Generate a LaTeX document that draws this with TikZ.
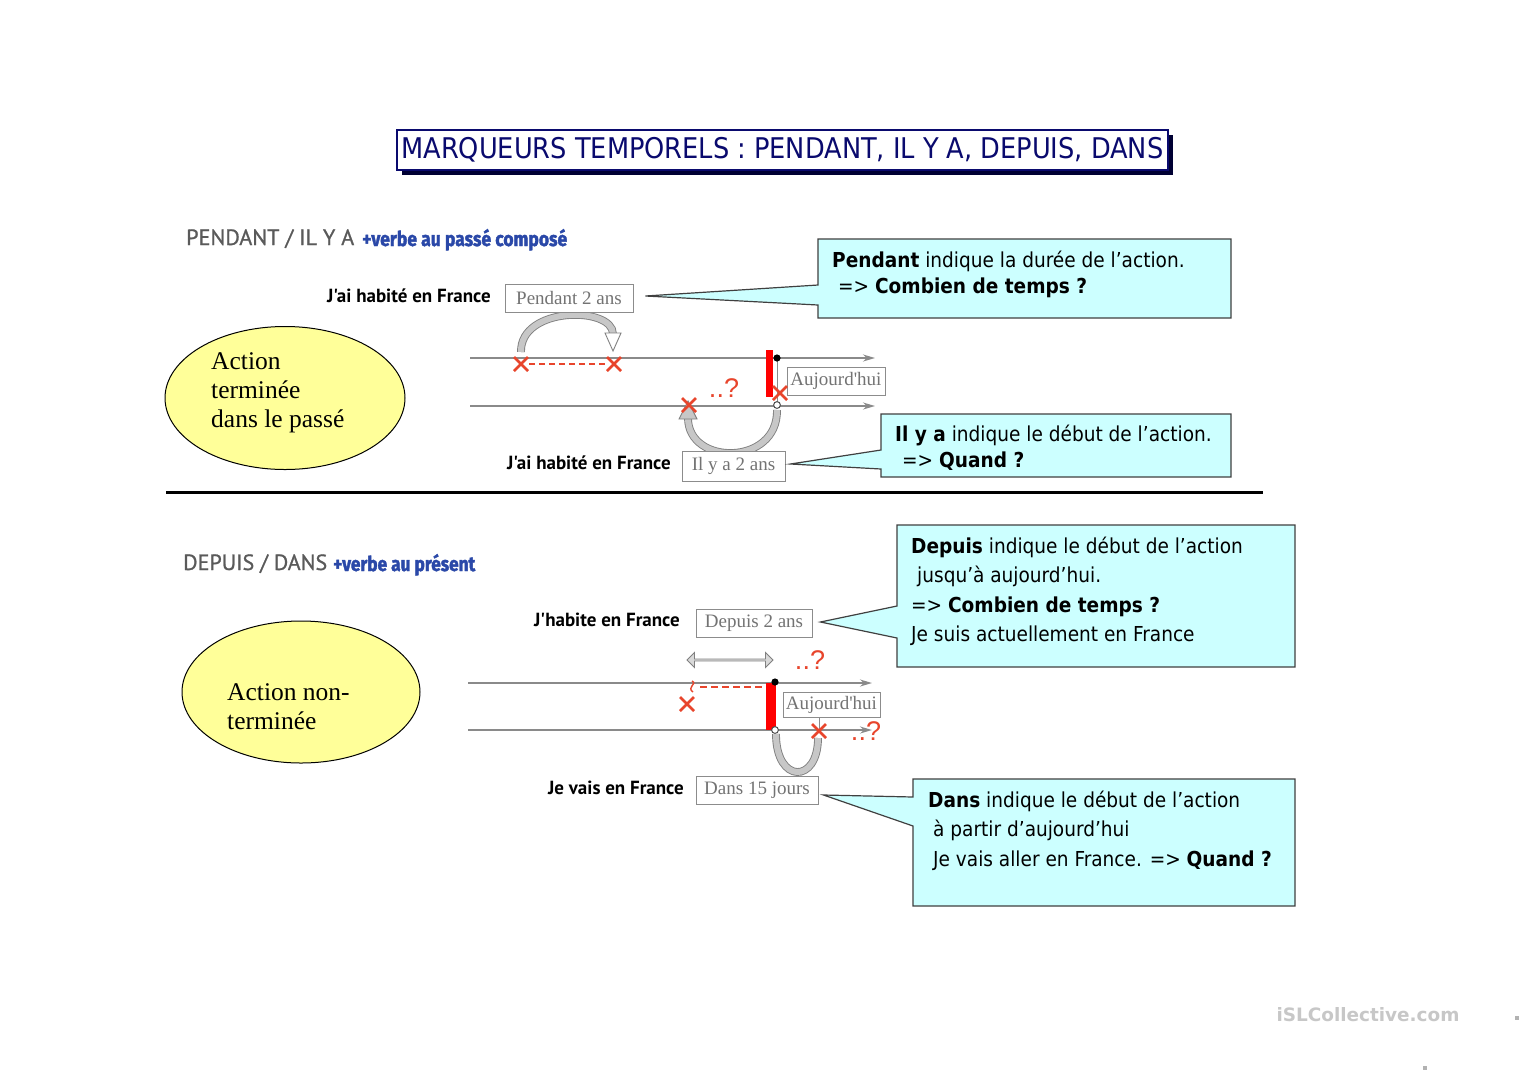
\documentclass[tikz,border=0pt]{standalone}
\usepackage{fontspec}
\usepackage{graphicx}
\usetikzlibrary{arrows.meta,shapes.geometric,shapes.arrows,calc}
\newfontfamily\calloutfont{DejaVu Sans Condensed}
\newfontfamily\labfont{PT Sans}
\newfontfamily\hdrfont{PT Sans}[FakeBold=0.9]
\newfontfamily\boxfont{Liberation Serif}
\newfontfamily\ellfont{Liberation Serif}
\newfontfamily\heavyfont{Fira Sans}[FakeBold=2]
\newfontfamily\wmfont{DejaVu Sans}
\newfontfamily\qfont{Liberation Sans}
\definecolor{navy}{HTML}{0A0A6E}
\definecolor{shadownavy}{HTML}{000033}
\definecolor{cyanfill}{HTML}{CCFFFF}
\definecolor{ellfill}{HTML}{FFFF99}
\definecolor{redx}{HTML}{E8452C}
\definecolor{hdrblue}{HTML}{2A48A8}
\definecolor{hdrgrey}{HTML}{5A5A5A}
\definecolor{linegrey}{HTML}{8A8A8A}
\tikzset{
  callout/.style={draw=black!75, fill=cyanfill, line width=1.2pt},
  ctext/.style={anchor=base west, inner sep=0pt, font=\calloutfont\fontsize{20.6}{25}\selectfont},
  ell/.style={ellipse, draw=black, fill=ellfill, line width=1pt},
  etext/.style={anchor=base west, inner sep=0pt, font=\ellfont\fontsize{25.5}{29}\selectfont},
  lab/.style={anchor=base east, inner sep=0pt, font=\labfont\bfseries\fontsize{19}{22}\selectfont},
  tbox/.style={draw=black!45, line width=1pt, fill=white, inner sep=0pt, text=black!55, font=\boxfont\fontsize{19}{21}\selectfont},
  tline/.style={draw=linegrey, line width=1.5pt},
  redcross/.style={draw=redx, line width=2.6pt},
  band/.style={draw=black!50, double=black!22, double distance=6pt, line width=0.9pt},
  qmark/.style={text=redx, inner sep=0pt, font=\qfont\fontsize{27}{30}\selectfont},
  hdr/.style={anchor=base west, inner sep=0pt, text=hdrgrey},
}
\newcommand{\redX}[2]{\draw[redcross] ($(#1)+(-#2,-#2)$) -- ($(#1)+(#2,#2)$) ($(#1)+(-#2,#2)$) -- ($(#1)+(#2,-#2)$);}
\begin{document}
\begin{tikzpicture}[x=1pt,y=-1pt]
\useasboundingbox[fill=white] (0,0) rectangle (1527,1080);

% ---------- title ----------
\fill[shadownavy] (402,135) rectangle (1173,175);
\draw[navy, fill=white, line width=2.5pt] (397,130) rectangle (1168,170);
\node[inner sep=0pt, text=navy] (title) at (782.5,150)
  {\resizebox{762pt}{!}{\calloutfont\fontsize{32}{36}\selectfont MARQUEURS TEMPORELS : PENDANT, IL Y A, DEPUIS, DANS}};

% ---------- headers ----------
\node[hdr] (h1) at (186,245) {\resizebox{168pt}{!}{\hdrfont\fontsize{18}{20}\selectfont PENDANT / IL Y A}};
\node[anchor=base west, inner sep=0pt, text=hdrblue] (h1b) at (362,246)
  {\resizebox{205pt}{17pt}{\heavyfont\bfseries +verbe au passé composé}};
\node[hdr] (h2) at (183,570) {\resizebox{144pt}{!}{\hdrfont\fontsize{18}{20}\selectfont DEPUIS / DANS}};
\node[anchor=base west, inner sep=0pt, text=hdrblue] (h2b) at (333,571)
  {\resizebox{142pt}{17pt}{\heavyfont\bfseries +verbe au présent}};

% ---------- separator ----------
\draw[black, line width=3pt] (166,492) -- (1263,492);

% ---------- ellipses ----------
\node[ell, minimum width=240pt, minimum height=143pt] (e1) at (285,398) {};
\node[etext] (e1a) at (211,369) {Action};
\node[etext] (e1b) at (211,398) {terminée};
\node[etext] (e1c) at (211,427) {dans le passé};
\node[ell, minimum width=238pt, minimum height=142pt] (e2) at (301,692) {};
\node[etext] (e2a) at (227,700) {Action non-};
\node[etext] (e2b) at (227,729) {terminée};

% ================= diagram 1 =================
\coordinate (u1s) at (470,358); \coordinate (u1e) at (875,358);
\coordinate (d1s) at (470,406); \coordinate (d1e) at (875,406);
\draw[tline, -{Stealth[length=12pt,width=7pt]}] (u1s) -- (u1e);
\draw[tline, -{Stealth[open,length=12pt,width=7pt,fill=white]}] (d1s) -- (d1e);
% pendant arc
\draw[band] (521,352) .. controls (520,306) and (613,306) .. (613,334);
\draw[black!50, fill=white, line width=0.9pt] (605,333) -- (621,333) -- (613,351) -- cycle;
\node[lab] (l1) at (491,302) {J'ai habité en France};
\node[tbox, minimum width=128pt, minimum height=28pt] (pend) at (569,298) {Pendant 2 ans};
\coordinate (x1) at (521,364); \coordinate (x2) at (614,364);
\draw[redx, line width=2pt, dash pattern=on 6pt off 4pt] (529,364) -- (606,364);
\redX{x1}{7}
\redX{x2}{7}
% now marker
\fill[red] (766,350) rectangle (773,397);
\coordinate (nowa) at (777,358); \coordinate (nowb) at (777,405);
\draw[linegrey, line width=1pt] (nowa) -- (nowb);
% il y a arc
\draw[band] (777,410) .. controls (778,466) and (688,466) .. (688,418);
\draw[black!50, fill=black!22, line width=0.9pt] (679,419) -- (697,419) -- (688,401) -- cycle;
\fill[black] (nowa) circle (3.6pt);
\draw[black!70, fill=white, line width=1pt] (nowb) circle (3.4pt);
\node[tbox, minimum width=98pt, minimum height=28pt] (auj1) at (836,381) {Aujourd'hui};
\coordinate (x3) at (780,393); \coordinate (x4) at (689,405);
\redX{x3}{7}
\redX{x4}{7}
\node[qmark] (q1) at (724,388) {..?};
\node[lab] (l2) at (671,469) {J'ai habité en France};
\node[tbox, minimum width=103pt, minimum height=30pt] (ilya) at (733.5,466) {Il y a 2 ans};

% ================= diagram 2 =================
\node[lab] (l3) at (680,626) {J'habite en France};
\node[tbox, minimum width=116pt, minimum height=28pt] (dep) at (754,623) {Depuis 2 ans};
\node[double arrow, draw=black!50, fill=black!15, line width=0.9pt, minimum width=15pt, minimum height=86pt, double arrow head extend=3pt, double arrow head indent=0pt, inner sep=0pt] (dur) at (730,660) {};
\node[qmark] (q2) at (810,660) {..?};
\coordinate (u2s) at (468,683); \coordinate (u2e) at (872,683);
\coordinate (d2s) at (468,730); \coordinate (d2e) at (872,730);
\draw[tline, -{Stealth[length=12pt,width=7pt]}] (u2s) -- (u2e);
\draw[tline, -{Stealth[open,length=12pt,width=7pt,fill=white]}] (d2s) -- (d2e);
\draw[redx, line width=2pt, dash pattern=on 7pt off 4pt] (700,687) -- (764,687);
\draw[redx, line width=1.4pt] (692,681) .. controls (698,684) and (686,687) .. (693,692);
\coordinate (x5) at (687,704);
\redX{x5}{7}
\fill[red] (766,683) rectangle (776,730);
% dans arc
\draw[band] (776,734) .. controls (776,784) and (818,784) .. (818,738);
\coordinate (nowc) at (775,682); \coordinate (nowd) at (775,730);
\fill[black] (nowc) circle (3.6pt);
\draw[black!70, fill=white, line width=1pt] (nowd) circle (3.4pt);
\node[tbox, minimum width=97pt, minimum height=25pt] (auj2) at (831.5,705) {Aujourd'hui};
\coordinate (x6) at (819,731);
\draw[linegrey, line width=1pt] (auj2.south -| x6) -- (x6);
\redX{x6}{7}
\node[qmark] (q3) at (866,731) {..?};
\node[lab] (l4) at (684,794) {Je vais en France};
\node[tbox, minimum width=122pt, minimum height=28pt] (dans) at (757,790) {Dans 15 jours};

% ================= callouts =================
% callout 1 (Pendant)
\coordinate (t1) at ($(pend.east)+(12,-2)$);
\draw[callout] (818,239) -- (1231,239) -- (1231,318) -- (818,318) -- (818,305) -- (t1) -- (818,285) -- cycle;
\node[ctext] (c1a) at (832,267) {\textbf{Pendant} indique la durée de l’action.};
\node[ctext] (c1b) at (832,293) {\hspace*{6pt}=> \textbf{Combien de temps ?}};
% callout 2 (Il y a)
\coordinate (t2) at ($(ilya.east)+(5,-2)$);
\draw[callout] (881,414) -- (1231,414) -- (1231,477) -- (881,477) -- (881,469) -- (t2) -- (881,450) -- cycle;
\node[ctext] (c2a) at (895,441) {\textbf{Il y a} indique le début de l’action.};
\node[ctext] (c2b) at (895,467) {\hspace*{7pt}=> \textbf{Quand ?}};
% callout 3 (Depuis)
\coordinate (t3) at ($(dep.east)+(8,-1)$);
\draw[callout] (897,525) -- (1295,525) -- (1295,667) -- (897,667) -- (897,638) -- (t3) -- (897,606) -- cycle;
\node[ctext] (c3a) at (911,553) {\textbf{Depuis} indique le début de l’action};
\node[ctext] (c3b) at (911,582) {\hspace*{6pt}jusqu’à aujourd’hui.};
\node[ctext] (c3c) at (911,612) {=> \textbf{Combien de temps ?}};
\node[ctext] (c3d) at (911,641) {Je suis actuellement en France};
% callout 4 (Dans)
\coordinate (t4) at ($(dans.east)+(5,5)$);
\draw[callout] (913,779) -- (1295,779) -- (1295,906) -- (913,906) -- (913,826) -- (t4) -- (913,797) -- cycle;
\node[ctext] (c4a) at (928,807) {\textbf{Dans} indique le début de l’action};
\node[ctext] (c4b) at (928,836) {\hspace*{5pt}à partir d’aujourd’hui};
\node[ctext] (c4c) at (928,866) {\hspace*{5pt}Je vais aller en France. => \textbf{Quand ?}};

% ---------- watermark ----------
\node[anchor=base, inner sep=0pt, text=black!22] (wm) at (1368,1021)
  {\resizebox{183pt}{!}{\wmfont\bfseries iSLCollective.com}};
\fill[black!30] (1515,1016) rectangle (1519,1020);
\fill[black!30] (1423,1066) rectangle (1427,1070);
\end{tikzpicture}
\end{document}
